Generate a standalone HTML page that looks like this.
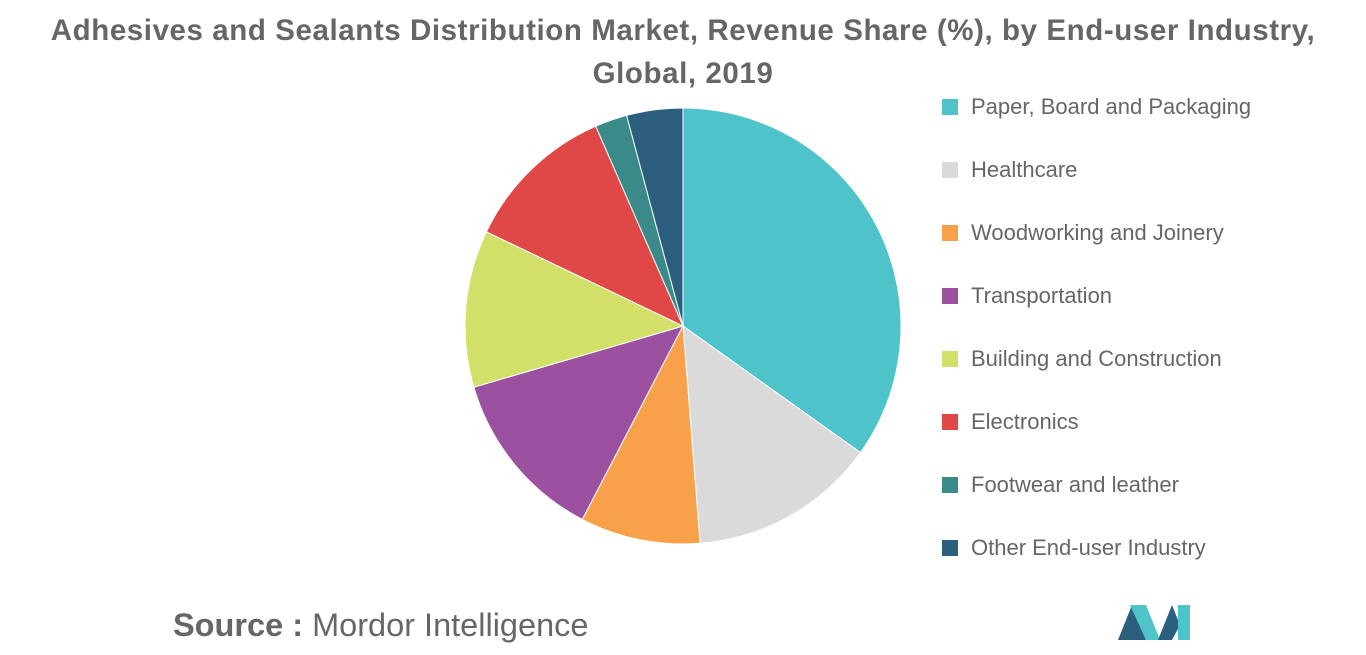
<!DOCTYPE html>
<html><head><meta charset="utf-8"><style>
body{margin:0;width:1366px;height:655px;background:#fff;overflow:hidden;font-family:"Liberation Sans",sans-serif;}
.t{position:absolute;left:0;width:1366px;text-align:center;color:#666;font-weight:bold;font-size:29.5px;letter-spacing:0.58px;}
.lg{position:absolute;left:942px;font-size:22px;color:#666;}
.lg span{display:inline-block;width:16px;height:16px;margin-right:13px;vertical-align:-1px;}
</style></head><body>
<div class="t" style="top:14px">Adhesives and Sealants Distribution Market, Revenue Share (%), by End-user Industry,</div>
<div class="t" style="top:57px">Global, 2019</div>
<svg width="1366" height="655" style="position:absolute;left:0;top:0">
<g stroke="#fff" stroke-width="1">
<path d="M683,326 L683,108 A218,218 0 0 1 860.5,452.6 Z" fill="#4FC3CA"/>
<path d="M683,326 L860.5,452.6 A218,218 0 0 1 700.1,543.3 Z" fill="#DADADA"/>
<path d="M683,326 L700.1,543.3 A218,218 0 0 1 582.3,519.4 Z" fill="#F9A04A"/>
<path d="M683,326 L582.3,519.4 A218,218 0 0 1 473.8,387.2 Z" fill="#9B519F"/>
<path d="M683,326 L473.8,387.2 A218,218 0 0 1 486.4,231.8 Z" fill="#D2E069"/>
<path d="M683,326 L486.4,231.8 A218,218 0 0 1 595.7,126.2 Z" fill="#E04848"/>
<path d="M683,326 L595.7,126.2 A218,218 0 0 1 626.6,115.4 Z" fill="#3A8A8A"/>
<path d="M683,326 L626.6,115.4 A218,218 0 0 1 683,108 Z" fill="#2C5F7E"/>
</g>
<g>
<polygon points="1118,640 1132,605 1146,640" fill="#2C5F7E"/>
<polygon points="1130,605 1146,605 1160,640 1146,640" fill="#4FC3CA"/>
<polygon points="1158,640 1172,605 1180,625 1172,640" fill="#2C5F7E"/>
<rect x="1178" y="605" width="12" height="35" fill="#4FC3CA"/>
</g>
</svg>
<div class="lg" style="top:94px"><span style="background:#4FC3CA"></span>Paper, Board and Packaging</div>
<div class="lg" style="top:157px"><span style="background:#DADADA"></span>Healthcare</div>
<div class="lg" style="top:220px"><span style="background:#F9A04A"></span>Woodworking and Joinery</div>
<div class="lg" style="top:283px"><span style="background:#9B519F"></span>Transportation</div>
<div class="lg" style="top:346px"><span style="background:#D2E069"></span>Building and Construction</div>
<div class="lg" style="top:409px"><span style="background:#E04848"></span>Electronics</div>
<div class="lg" style="top:472px"><span style="background:#3A8A8A"></span>Footwear and leather</div>
<div class="lg" style="top:535px"><span style="background:#2C5F7E"></span>Other End-user Industry</div>
<div style="position:absolute;left:173px;top:607px;font-size:32.5px;color:#666"><b>Source :</b> Mordor Intelligence</div>
</body></html>
